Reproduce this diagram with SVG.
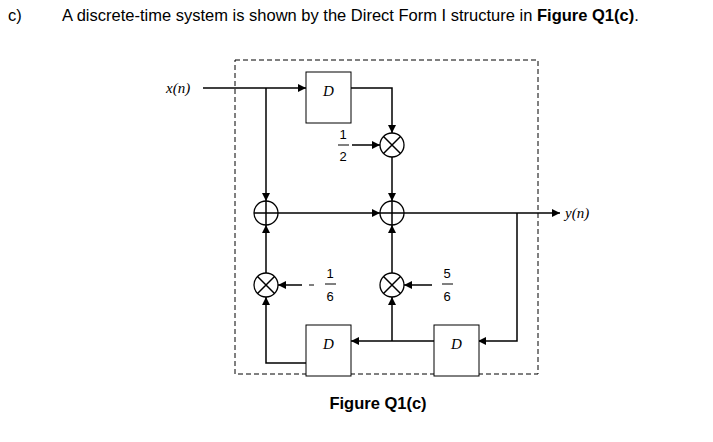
<svg xmlns="http://www.w3.org/2000/svg" width="713" height="442" viewBox="0 0 713 442">
<style>
.t{font-family:"Liberation Sans",Arial,sans-serif;font-size:16.5px;fill:#000}
.m{font-family:"Liberation Serif","DejaVu Serif",serif;font-style:italic;font-size:15px}
.n{font-family:"Liberation Sans",Arial,sans-serif;font-size:13px}
.w{fill:none;stroke:#000;stroke-width:1.5}
.c{fill:#fff;stroke:#000;stroke-width:1.3}
.b{fill:#fff;stroke:#000;stroke-width:1}
</style>
<defs><marker id="a" viewBox="0 0 10 10" refX="10" refY="5" markerWidth="8" markerHeight="8" markerUnits="userSpaceOnUse" orient="auto"><path d="M0,0L10,5L0,10z"/></marker></defs>
<rect width="713" height="442" fill="#fff"/>
<text class="t" x="8" y="21">c)</text>
<text class="t" x="62" y="21">A discrete-time system is shown by the Direct Form I structure in <tspan font-weight="bold">Figure Q1(c)</tspan>.</text>
<rect x="235" y="60" width="303" height="314" fill="none" stroke="#000" stroke-width="1" stroke-dasharray="5,3"/>
<g id="connectors" class="w" marker-end="url(#a)">
<path d="M203,88H306"/>
<path d="M266,88V201"/>
<path d="M351,88H392V133"/>
<path d="M352,145H380"/>
<path d="M392,157V201"/>
<path d="M278,213H380"/>
<path d="M404,213H560"/>
<path d="M517,213V341H478"/>
<path d="M434,341H351"/>
<path d="M392,341V297"/>
<path d="M306,363H266V297"/>
<path d="M266,273V225"/>
<path d="M392,273V225"/>
<path d="M432,285H404"/>
<path d="M302,285H278"/>
</g>
<g id="in"><text class="m" x="166" y="93">x(n)</text></g>
<g id="out"><text class="m" x="565" y="218">y(n)</text></g>
<g id="d1"><rect class="b" x="306" y="72" width="45" height="51"/><text class="m" x="323" y="96">D</text></g>
<g id="d2"><rect class="b" x="306" y="325" width="45" height="51"/><text class="m" x="323" y="349">D</text></g>
<g id="d3"><rect class="b" x="434" y="325" width="45" height="51"/><text class="m" x="451" y="349">D</text></g>
<g id="m1"><circle class="c" cx="392" cy="145" r="12"/><path class="w" stroke-width="1.2" d="M383.5,136.5l17,17M400.5,136.5l-17,17"/></g>
<g id="m2"><circle class="c" cx="266" cy="285" r="12"/><path class="w" stroke-width="1.2" d="M257.5,276.5l17,17M274.5,276.5l-17,17"/></g>
<g id="m3"><circle class="c" cx="392" cy="285" r="12"/><path class="w" stroke-width="1.2" d="M383.5,276.5l17,17M400.5,276.5l-17,17"/></g>
<g id="s1"><circle class="c" cx="266" cy="213" r="12"/><path class="w" stroke-width="1.2" d="M254,213h24M266,201v24"/></g>
<g id="s2"><circle class="c" cx="392" cy="213" r="12"/><path class="w" stroke-width="1.2" d="M380,213h24M392,201v24"/></g>
<g id="k1"><text class="n" x="343" y="139" text-anchor="middle">1</text><path d="M338,145h11" stroke="#000"/><text class="n" x="343" y="161" text-anchor="middle">2</text></g>
<g id="k2"><path d="M309,285h5" stroke="#000"/><text class="n" x="330" y="278" text-anchor="middle">1</text><path d="M325,284h11" stroke="#000"/><text class="n" x="330" y="301" text-anchor="middle">6</text></g>
<g id="k3"><text class="n" x="447" y="278" text-anchor="middle">5</text><path d="M442,284h11" stroke="#000"/><text class="n" x="447" y="301" text-anchor="middle">6</text></g>
<text class="t" x="378" y="409" text-anchor="middle" font-weight="bold" font-size="14">Figure Q1(c)</text>
</svg>
